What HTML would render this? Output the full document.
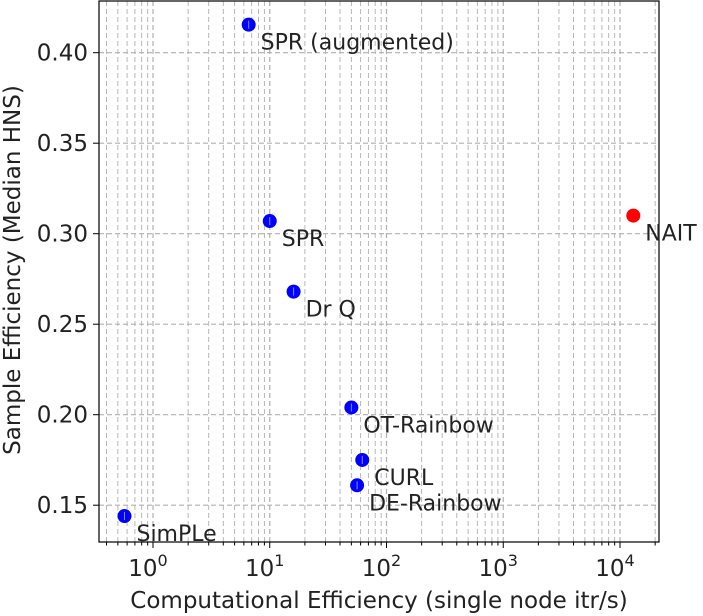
<!DOCTYPE html>
<html><head><meta charset="utf-8"><style>
body{margin:0;background:#fff;}
svg{display:block;font-family:"DejaVu Sans","Liberation Sans",sans-serif;}
</style></head><body>
<svg id="chart" width="703" height="616" viewBox="0 0 703 616" xmlns="http://www.w3.org/2000/svg">
<g id="grid"></g>
<g id="axes"></g>
<g id="marks"></g>
<text x="379" y="608" font-size="23" text-anchor="middle" fill="#222">Computational Efficiency (single node itr/s)</text>
<text transform="translate(20,270) rotate(-90)" font-size="23" text-anchor="middle" fill="#222">Sample Efficiency (Median HNS)</text>
</svg>
<script>
const methods=["SPR (augmented)","SPR","Dr Q","OT-Rainbow","CURL","DE-Rainbow","SimPLe","NAIT"];
const compEff=[6.6,10,16,50,62,56,0.57,13000];
const sampleEff=[0.4155,0.307,0.268,0.204,0.175,0.161,0.144,0.310];
const colors=["blue","blue","blue","blue","blue","blue","blue","red"];
const yTicks=[0.15,0.20,0.25,0.30,0.35,0.40];
const xTickExps=[0,1,2,3,4];

const L=99,R=659,T=1,B=542;
const X0=153,DEC=116.75;
function xs(v){return X0+Math.log10(v)*DEC;}
const Y40=52.7,PPU=1810;
function ys(v){return Y40+(0.40-v)*PPU;}
const NS="http://www.w3.org/2000/svg";
function mk(t,a,p){const e=document.createElementNS(NS,t);for(const k in a)e.setAttribute(k,a[k]);p.appendChild(e);return e;}
const grid=document.getElementById('grid'),axes=document.getElementById('axes'),marks=document.getElementById('marks');
for(let e=-1;e<=4;e++){for(let m=1;m<=9;m++){const v=m*Math.pow(10,e);const x=xs(v);if(x<=L||x>=R)continue;
const ln=mk('line',{x1:x,x2:x,y1:T,y2:B,stroke:'#b0b0b0','stroke-width':m===1?1.2:0.9,'stroke-dasharray':'5,3'},grid);


const tk=mk('line',{x1:x,x2:x,y1:B,y2:B+(m===1?6:3.5),stroke:'#000','stroke-width':1},axes);

}}
yTicks.forEach(v=>{const y=ys(v);
const ln=mk('line',{x1:L,x2:R,y1:y,y2:y,stroke:'#b0b0b0','stroke-width':1.2,'stroke-dasharray':'5,3'},grid);


mk('line',{x1:L-6,x2:L,y1:y,y2:y,stroke:'#000'},axes);
const t=mk('text',{x:L-11,y:y+8,'font-size':23,'text-anchor':'end',fill:'#222'},axes);t.textContent=v.toFixed(2);

});
xTickExps.forEach(e=>{const x=xs(Math.pow(10,e));
const t=mk('text',{x:x-5,y:B+34,'font-size':23,'text-anchor':'middle',fill:'#222'},axes);
t.innerHTML='10<tspan dy="-10" font-size="16">'+e+'</tspan>';

});
const fr=mk('rect',{x:L,y:T,width:R-L,height:B-T,fill:'none',stroke:'#000','stroke-width':1.2},axes);


methods.forEach((n,i)=>{const x=xs(compEff[i]),y=ys(sampleEff[i]);
const c=mk('circle',{cx:x,cy:y,r:7,fill:colors[i]},marks);


if(colors[i]==='blue')mk('line',{x1:x,x2:x,y1:y-4,y2:y+4,stroke:'#8888ff','stroke-width':1},marks);
const t=mk('text',{x:x+12,y:y+25,'font-size':22,fill:'#222'},marks);t.textContent=n;

});
</script>
</body></html>
